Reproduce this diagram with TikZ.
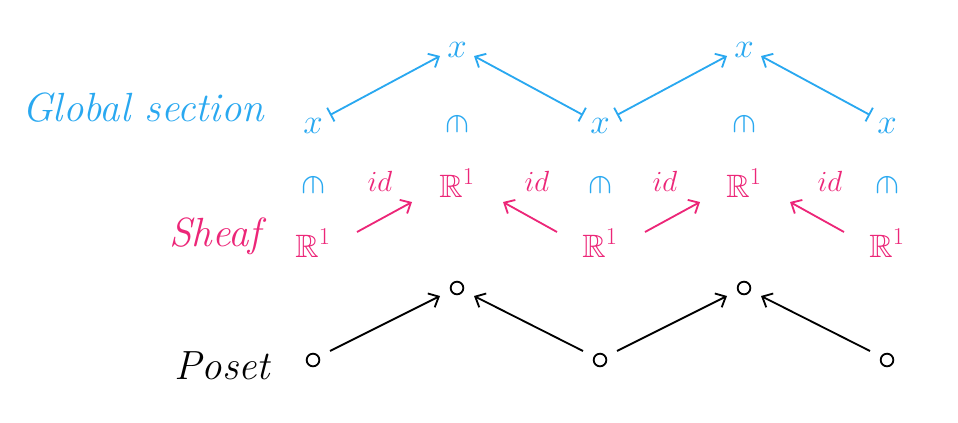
\documentclass[tikz,border=0pt]{standalone}
\usepackage{amssymb,graphicx}
\usetikzlibrary{arrows.meta}
\definecolor{gblue}{RGB}{41,168,240}
\definecolor{spink}{RGB}{236,38,120}
\begin{document}
\begin{tikzpicture}[x=0.025cm,y=-0.025cm,font=\fontsize{29}{33}\selectfont,
  pt/.style={circle,draw,line width=1.3pt,inner sep=0pt,minimum size=9pt},
  lab/.style={inner sep=2pt},
  arr/.style={-{Straight Barb[length=6pt,width=11pt]},line width=1.3pt},
  marr/.style={{Bar[width=11pt]}-{Straight Barb[length=6pt,width=11pt]},line width=1.3pt,gblue},
  idl/.style={inner sep=0pt,text=spink,font=\fontsize{22}{26}\selectfont}]
\useasboundingbox (0,0) rectangle (958,422);
% poset
\node[pt] (p1) at (313,360) {};
\node[pt] (p2) at (457,288) {};
\node[pt] (p3) at (600,360) {};
\node[pt] (p4) at (744,288) {};
\node[pt] (p5) at (887,360) {};
\draw[arr] (330,351) -- (440,296);
\draw[arr] (583,351) -- (474,296);
\draw[arr] (617,351) -- (727,296);
\draw[arr] (870,351) -- (761,296);
\node[lab,anchor=east] (lp) at (275,366) {\textit{Poset}};
% sheaf
\foreach \n/\x/\y in {s1/313/243,s2/457/183,s3/600/243,s4/744/183,s5/887/243}
  \node[lab,text=spink,font=\fontsize{23}{27}\selectfont] (\n) at (\x,\y) {$\mathbb{R}^1$};
\draw[arr,spink] (357,232) -- (412,202);
\draw[arr,spink] (557,232) -- (503,202);
\draw[arr,spink] (645,232) -- (700,202);
\draw[arr,spink] (844,232) -- (790,202);
\node[idl] (i1) at (380,181) {$id$};
\node[idl] (i2) at (537,181) {$id$};
\node[idl] (i3) at (665,181) {$id$};
\node[idl] (i4) at (830,181) {$id$};
\node[lab,anchor=east,text=spink] (ls) at (270,236) {\textit{Sheaf}};
% global section
\foreach \n/\x/\y in {x1/313/126,x2/457/50,x3/600/126,x4/744/50,x5/887/126}
  \node[lab,text=gblue,font=\fontsize{38}{42}\selectfont] (\n) at (\x,\y) {$x$};
\foreach \n/\x/\y in {e1/313/185,e2/457/124,e3/600/185,e4/744/124,e5/887/185}
  \node[lab,text=gblue] (\n) at (\x,\y) {\rotatebox{-90}{$\in$}};
\draw[marr] (330,115) -- (440,56);
\draw[marr] (583,115) -- (474,56);
\draw[marr] (617,115) -- (727,56);
\draw[marr] (870,115) -- (761,56);
\node[lab,anchor=east,text=gblue] (lg) at (268,108) {\textit{Global section}};
\end{tikzpicture}
\end{document}
